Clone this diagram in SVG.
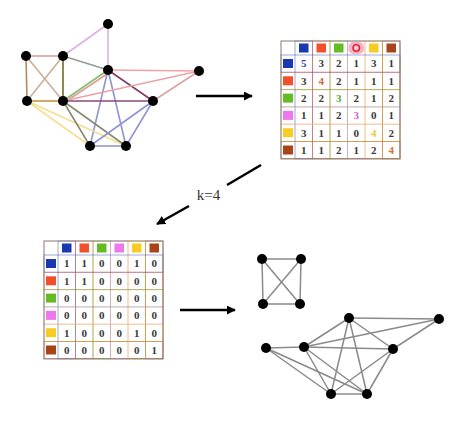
<svg xmlns="http://www.w3.org/2000/svg" width="474" height="433" viewBox="0 0 474 433">
<defs>
<style>
.nd{fill:#000}
.e{stroke-width:1.6;fill:none;stroke-linecap:round}
.g{stroke:#8a8a8a;stroke-width:1.5;fill:none}
.arr{stroke:#000;stroke-width:2.5;fill:none}
.num{font-family:"Liberation Serif",serif;font-size:11px;font-weight:bold;fill:#3a3a3a;text-anchor:middle}
.lbl{font-family:"Liberation Serif",serif;font-size:15px;fill:#333;text-anchor:middle}
.cb{fill:none;stroke:#2a40b0;stroke-opacity:.45}
.cr{fill:none;stroke:#f0502a;stroke-opacity:.45}
.cg{fill:none;stroke:#66bb22;stroke-opacity:.45}
.cp{fill:none;stroke:#ee77ee;stroke-opacity:.45}
.cy{fill:none;stroke:#f8cc22;stroke-opacity:.5}
.cn{fill:none;stroke:#a84418;stroke-opacity:.45}
.out{fill:none;stroke:#8a7a70;stroke-width:1}
</style>
<marker id="ah" viewBox="0 0 10 10" refX="9" refY="5" markerWidth="3.6" markerHeight="3.6" orient="auto" markerUnits="strokeWidth">
<path d="M0,0 L10,5 L0,10 z" fill="#000"/>
</marker>
<g id="grid">
<rect width="119" height="117.8" fill="#fff"/>
<rect x="14" y="0" width="17.5" height="117.8" class="cb"/>
<rect x="31.5" y="0" width="17.5" height="117.8" class="cr"/>
<rect x="49" y="0" width="17.5" height="117.8" class="cg"/>
<rect x="66.5" y="0" width="17.5" height="117.8" class="cp"/>
<rect x="84" y="0" width="17.5" height="117.8" class="cy"/>
<rect x="101.5" y="0" width="17.5" height="117.8" class="cn"/>
<rect x="0" y="14" width="119" height="17.3" class="cb"/>
<rect x="0" y="31.3" width="119" height="17.3" class="cr"/>
<rect x="0" y="48.6" width="119" height="17.3" class="cg"/>
<rect x="0" y="65.9" width="119" height="17.3" class="cp"/>
<rect x="0" y="83.2" width="119" height="17.3" class="cy"/>
<rect x="0" y="100.5" width="119" height="17.3" class="cn"/>
<rect x="2" y="18" width="10" height="9" fill="#1a38b0"/>
<rect x="2" y="35.3" width="10" height="9" fill="#f0502a"/>
<rect x="2" y="52.6" width="10" height="9" fill="#66bb22"/>
<rect x="2" y="69.9" width="10" height="9" fill="#ee77ee"/>
<rect x="2" y="87.2" width="10" height="9" fill="#f8cc22"/>
<rect x="2" y="104.5" width="10" height="9" fill="#a84418"/>
<rect x="18" y="2.5" width="9.5" height="9" fill="#1a38b0"/>
<rect x="35.5" y="2.5" width="9.5" height="9" fill="#f0502a"/>
<rect x="53" y="2.5" width="9.5" height="9" fill="#66bb22"/>
<rect x="88" y="2.5" width="9.5" height="9" fill="#f8cc22"/>
<rect x="105.5" y="2.5" width="9.5" height="9" fill="#a84418"/>
<rect width="119" height="117.8" class="out"/>
</g>
</defs>

<g id="connectors">
<path class="arr" d="M196,96 H252" marker-end="url(#ah)"/>
<path class="arr" d="M261,165 L227,185"/>
<path class="arr" d="M189,206 L157,224" marker-end="url(#ah)"/>
<path class="arr" d="M180,310 H235" marker-end="url(#ah)"/>
</g>

<g id="label-k">
<text class="lbl" x="208.5" y="199.5">k=4</text>
</g>

<g id="graph-colored">
<g id="graph-colored-edges">
<line class="e" x1="108" y1="24" x2="63" y2="56" stroke="#dcb0e4"/>
<line class="e" x1="108" y1="24" x2="108" y2="70" stroke="#dcb0e4"/>
<line class="e" x1="26" y1="56" x2="63" y2="56" stroke="#d89a98"/>
<line class="e" x1="26" y1="56" x2="27" y2="101" stroke="#b58a62"/>
<line class="e" x1="26" y1="56" x2="63" y2="101" stroke="#cbb098"/>
<line class="e" x1="63" y1="56" x2="27" y2="101" stroke="#cbb098"/>
<line class="e" x1="63" y1="56" x2="63" y2="101" stroke="#6f6d22" stroke-width="2"/>
<line class="e" x1="63" y1="56" x2="108" y2="70" stroke="#8fa08e" stroke-width="2"/>
<line class="e" x1="108" y1="70" x2="199" y2="71" stroke="#f0a4a4"/>
<line class="e" x1="108" y1="70" x2="63" y2="101" stroke="#80c070"/>
<line class="e" x1="110" y1="72" x2="65" y2="102" stroke="#e89a9a"/>
<line class="e" x1="108" y1="70" x2="153" y2="101" stroke="#8a3a5a" stroke-width="1.8"/>
<line class="e" x1="108" y1="70" x2="90" y2="146" stroke="#8e94d4"/>
<line class="e" x1="108" y1="70" x2="126" y2="146" stroke="#8e94d4"/>
<line class="e" x1="199" y1="71" x2="63" y2="101" stroke="#eaa4a4"/>
<line class="e" x1="199" y1="71" x2="153" y2="101" stroke="#e0a0a0"/>
<line class="e" x1="27" y1="101" x2="63" y2="101" stroke="#c88c3c" stroke-width="2"/>
<line class="e" x1="63" y1="101" x2="153" y2="101" stroke="#8a4a7e" stroke-width="2"/>
<line class="e" x1="27" y1="101" x2="90" y2="146" stroke="#f4e090"/>
<line class="e" x1="27" y1="101" x2="126" y2="146" stroke="#f4e090"/>
<line class="e" x1="63" y1="101" x2="90" y2="146" stroke="#8a8a70"/>
<line class="e" x1="63" y1="101" x2="126" y2="146" stroke="#8a8a70"/>
<line class="e" x1="153" y1="101" x2="90" y2="146" stroke="#8e94d4"/>
<line class="e" x1="153" y1="101" x2="126" y2="146" stroke="#8e94d4"/>
<line class="e" x1="90" y1="146" x2="126" y2="146" stroke="#8e94d4"/>
</g>
<g id="n-a"><circle class="nd" cx="108" cy="24" r="5"/></g>
<g id="n-b"><circle class="nd" cx="26" cy="56" r="5"/></g>
<g id="n-c"><circle class="nd" cx="63" cy="56" r="5"/></g>
<g id="n-d"><circle class="nd" cx="108" cy="70" r="5"/></g>
<g id="n-e"><circle class="nd" cx="199" cy="71" r="5"/></g>
<g id="n-f"><circle class="nd" cx="27" cy="101" r="5"/></g>
<g id="n-g"><circle class="nd" cx="63" cy="101" r="5"/></g>
<g id="n-h"><circle class="nd" cx="153" cy="101" r="5"/></g>
<g id="n-i"><circle class="nd" cx="90" cy="146" r="5"/></g>
<g id="n-j"><circle class="nd" cx="126" cy="146" r="5"/></g>
</g>

<g id="matrix-counts" transform="translate(281,41)">
<use href="#grid"/>
<rect x="67.5" y="1" width="15.5" height="12" rx="5" fill="#f8b4c0"/>
<circle cx="75.25" cy="7" r="3.2" fill="#fbd0d6" stroke="#e8203a" stroke-width="1.6"/>
<g class="num">
<text x="22.75" y="26.4" fill="#3848a0">5</text><text x="40.25" y="26.4">3</text><text x="57.75" y="26.4">2</text><text x="75.25" y="26.4">1</text><text x="92.75" y="26.4">3</text><text x="110.25" y="26.4">1</text>
<text x="22.75" y="43.7">3</text><text x="40.25" y="43.7" fill="#d06848">4</text><text x="57.75" y="43.7">2</text><text x="75.25" y="43.7">1</text><text x="92.75" y="43.7">1</text><text x="110.25" y="43.7">1</text>
<text x="22.75" y="61">2</text><text x="40.25" y="61">2</text><text x="57.75" y="61" fill="#5aa830">3</text><text x="75.25" y="61">2</text><text x="92.75" y="61">1</text><text x="110.25" y="61">2</text>
<text x="22.75" y="78.3">1</text><text x="40.25" y="78.3">1</text><text x="57.75" y="78.3">2</text><text x="75.25" y="78.3" fill="#c868d0">3</text><text x="92.75" y="78.3">0</text><text x="110.25" y="78.3">1</text>
<text x="22.75" y="95.6">3</text><text x="40.25" y="95.6">1</text><text x="57.75" y="95.6">1</text><text x="75.25" y="95.6">0</text><text x="92.75" y="95.6" fill="#ecc840">4</text><text x="110.25" y="95.6">2</text>
<text x="22.75" y="112.9">1</text><text x="40.25" y="112.9">1</text><text x="57.75" y="112.9">2</text><text x="75.25" y="112.9">1</text><text x="92.75" y="112.9">2</text><text x="110.25" y="112.9" fill="#c87838">4</text>
</g>
</g>

<g id="matrix-binary" transform="translate(44,241)">
<use href="#grid"/>
<rect x="70.5" y="2.5" width="9.5" height="9" fill="#ee77ee"/>
<g class="num">
<text x="22.75" y="26.4">1</text><text x="40.25" y="26.4">1</text><text x="57.75" y="26.4">0</text><text x="75.25" y="26.4">0</text><text x="92.75" y="26.4">1</text><text x="110.25" y="26.4">0</text>
<text x="22.75" y="43.7">1</text><text x="40.25" y="43.7">1</text><text x="57.75" y="43.7">0</text><text x="75.25" y="43.7">0</text><text x="92.75" y="43.7">0</text><text x="110.25" y="43.7">0</text>
<text x="22.75" y="61">0</text><text x="40.25" y="61">0</text><text x="57.75" y="61">0</text><text x="75.25" y="61">0</text><text x="92.75" y="61">0</text><text x="110.25" y="61">0</text>
<text x="22.75" y="78.3">0</text><text x="40.25" y="78.3">0</text><text x="57.75" y="78.3">0</text><text x="75.25" y="78.3">0</text><text x="92.75" y="78.3">0</text><text x="110.25" y="78.3">0</text>
<text x="22.75" y="95.6">1</text><text x="40.25" y="95.6">0</text><text x="57.75" y="95.6">0</text><text x="75.25" y="95.6">0</text><text x="92.75" y="95.6">1</text><text x="110.25" y="95.6">0</text>
<text x="22.75" y="112.9">0</text><text x="40.25" y="112.9">0</text><text x="57.75" y="112.9">0</text><text x="75.25" y="112.9">0</text><text x="92.75" y="112.9">0</text><text x="110.25" y="112.9">1</text>
</g>
</g>

<g id="graph-result">
<g id="graph-result-edges">
<line class="g" x1="262" y1="259" x2="301" y2="259"/>
<line class="g" x1="262" y1="259" x2="263" y2="304"/>
<line class="g" x1="301" y1="259" x2="300" y2="304"/>
<line class="g" x1="263" y1="304" x2="300" y2="304"/>
<line class="g" x1="262" y1="259" x2="300" y2="304"/>
<line class="g" x1="301" y1="259" x2="263" y2="304"/>
<line class="g" x1="349" y1="318" x2="439" y2="319"/>
<line class="g" x1="349" y1="318" x2="304" y2="347"/>
<line class="g" x1="349" y1="318" x2="393" y2="349"/>
<line class="g" x1="349" y1="318" x2="331" y2="394"/>
<line class="g" x1="349" y1="318" x2="367" y2="394"/>
<line class="g" x1="439" y1="319" x2="304" y2="347"/>
<line class="g" x1="439" y1="319" x2="393" y2="349"/>
<line class="g" x1="266" y1="348" x2="304" y2="347"/>
<line class="g" x1="304" y1="347" x2="393" y2="349"/>
<line class="g" x1="266" y1="348" x2="331" y2="394"/>
<line class="g" x1="266" y1="348" x2="367" y2="394"/>
<line class="g" x1="304" y1="347" x2="331" y2="394"/>
<line class="g" x1="304" y1="347" x2="367" y2="394"/>
<line class="g" x1="393" y1="349" x2="331" y2="394"/>
<line class="g" x1="393" y1="349" x2="367" y2="394"/>
<line class="g" x1="331" y1="394" x2="367" y2="394"/>
</g>
<g id="r-p1"><circle class="nd" cx="262" cy="259" r="5"/></g>
<g id="r-p2"><circle class="nd" cx="301" cy="259" r="5"/></g>
<g id="r-p3"><circle class="nd" cx="263" cy="304" r="5"/></g>
<g id="r-p4"><circle class="nd" cx="300" cy="304" r="5"/></g>
<g id="r-d"><circle class="nd" cx="349" cy="318" r="5"/></g>
<g id="r-e"><circle class="nd" cx="439" cy="319" r="5"/></g>
<g id="r-f"><circle class="nd" cx="266" cy="348" r="5"/></g>
<g id="r-g"><circle class="nd" cx="304" cy="347" r="5"/></g>
<g id="r-h"><circle class="nd" cx="393" cy="349" r="5"/></g>
<g id="r-i"><circle class="nd" cx="331" cy="394" r="5"/></g>
<g id="r-j"><circle class="nd" cx="367" cy="394" r="5"/></g>
</g>
</svg>
